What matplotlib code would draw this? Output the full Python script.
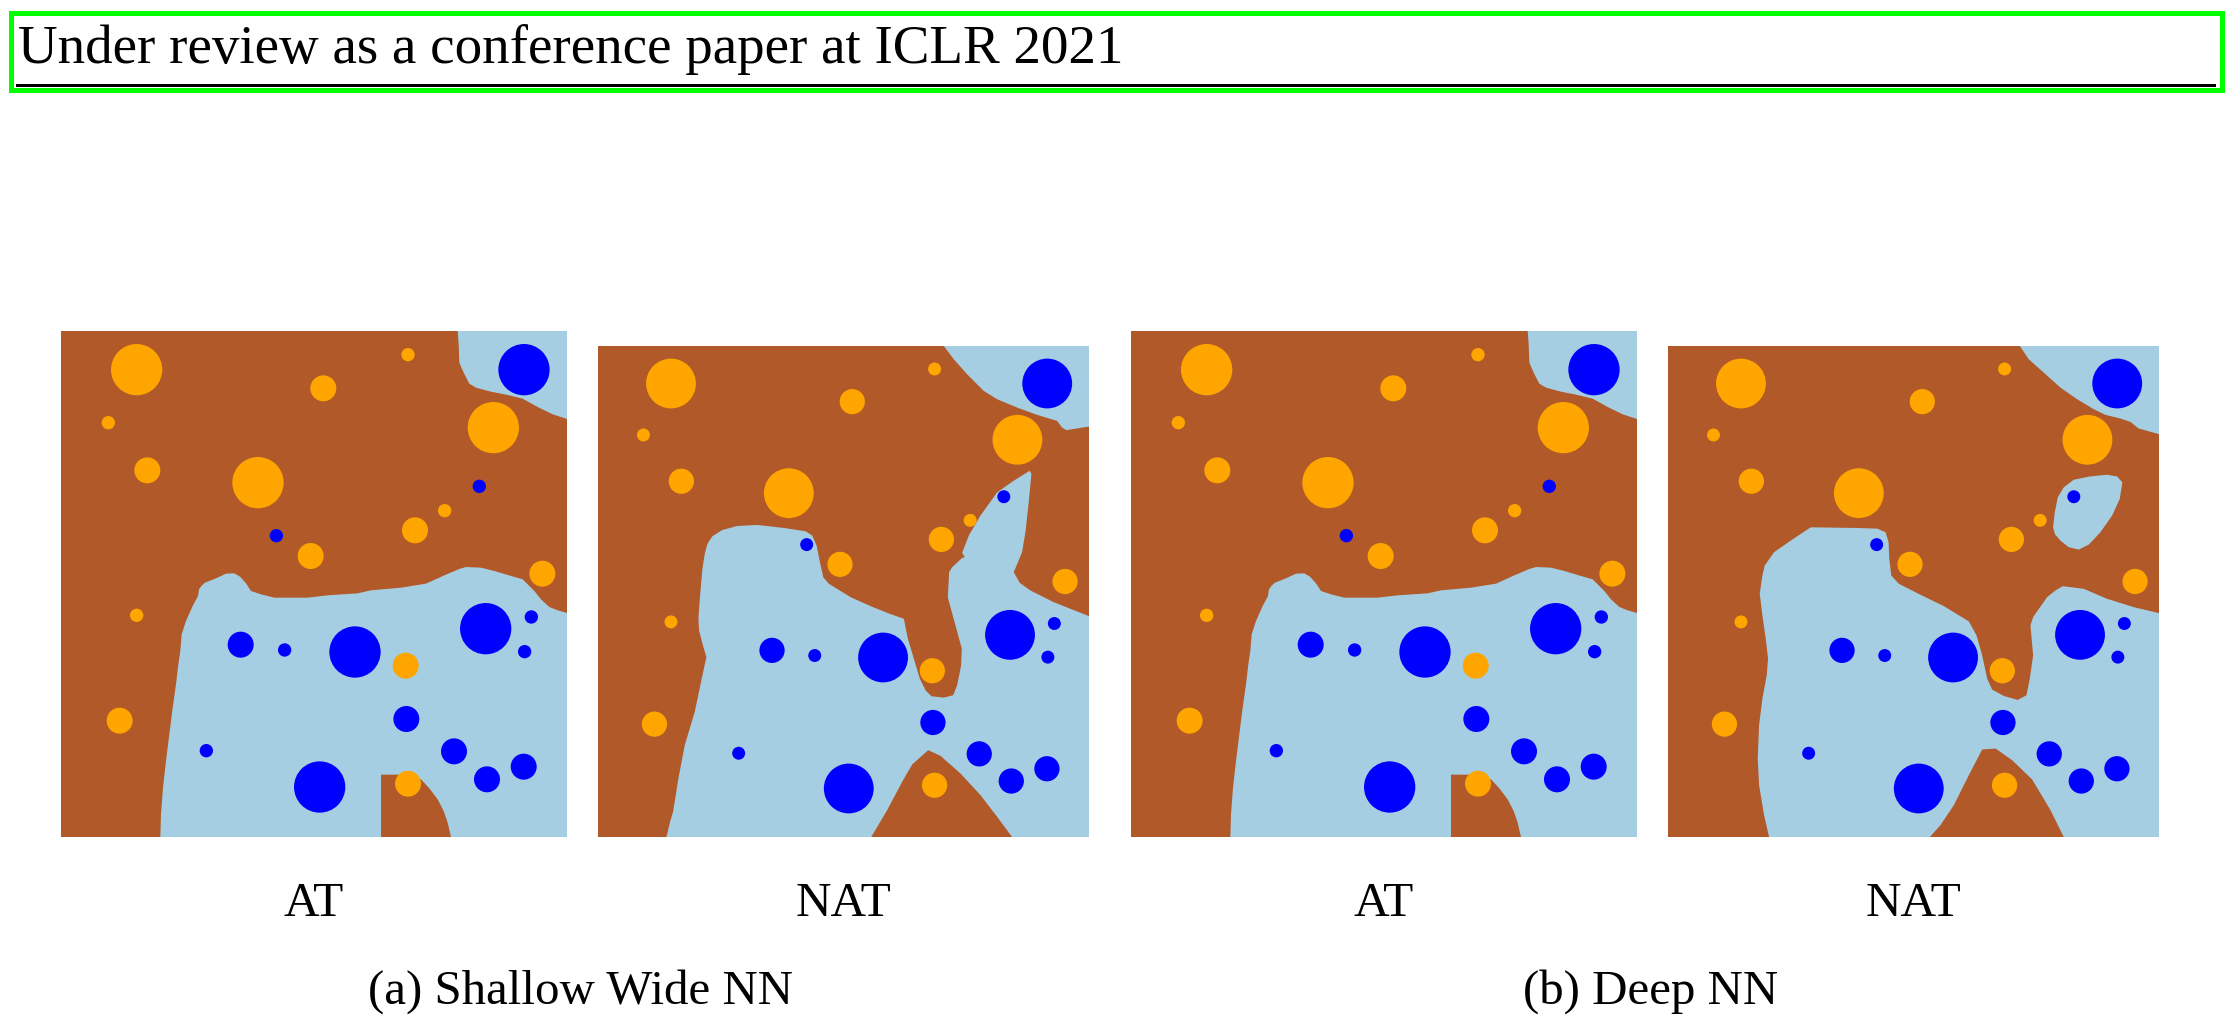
import matplotlib
matplotlib.use('Agg')
import matplotlib.pyplot as plt
from matplotlib.patches import Circle, Polygon, Rectangle
import numpy as np

W, H = 2232, 1024

# points, unit square, y up. size 0/1/2 = small/medium/large
orange_x = [.1495, .6858, .5184, .0935, .8544, .1706, .3893, .7582, .6996, .4934, .9513, .1495, .6812, .1159, .6858]
orange_y = [.9236, .9532, .8867, .8188, .8090, .7246, .7003, .6449, .6061, .5553, .5204, .4381, .3386, .2299, .1054]
orange_size = [2, 0, 1, 0, 2, 1, 2, 0, 1, 1, 1, 0, 1, 1, 1]

blue_x = [.9150, .8267, .4256, .8393, .9295, .9163, .3551, .4420, .5810, .6825, .2872, .7767, .9144, .8419, .5112]
blue_y = [.9236, .6930, .5955, .4117, .4348, .3663, .3801, .3696, .3656, .2332, .1706, .1693, .1390, .1140, .0988]
blue_size = [2, 0, 0, 2, 0, 0, 1, 0, 2, 1, 0, 1, 1, 1, 2]

# region outlines (crop pixels, y down)
at_corner = [(1190, 0), (1193, 40), (1195, 95), (1208, 125), (1225, 158), (1245, 170), (1290, 182), (1340, 192),
             (1385, 203), (1430, 228), (1475, 250), (1518, 264), (1518, 0)]
at_main = [(298, 1518), (300, 1450), (306, 1370), (315, 1290), (325, 1210), (335, 1130), (345, 1060), (352, 1000),
           (358, 960), (362, 910), (375, 870), (395, 825), (411, 795), (414, 775), (422, 764), (432, 755), (465, 742),
           (495, 728), (520, 727), (537, 737), (555, 757), (570, 780), (600, 790), (640, 800), (740, 800), (800, 793),
           (890, 787), (930, 778), (1020, 770), (1095, 758), (1150, 733), (1195, 714), (1215, 708), (1260, 710),
           (1300, 720), (1340, 732), (1385, 745), (1420, 780), (1440, 805), (1465, 828), (1490, 838), (1518, 846),
           (1518, 1518), (1170, 1518), (1160, 1475), (1148, 1440), (1130, 1405), (1105, 1372), (1080, 1345),
           (1050, 1331), (960, 1331), (960, 1518)]

nat_a_corner = [(1040, 0), (1070, 40), (1110, 85), (1160, 135), (1200, 160), (1260, 185), (1320, 207), (1380, 225),
                (1395, 245), (1408, 253), (1476, 242), (1476, 0)]
nat_a_main = [(207, 1476), (218, 1430), (227, 1400), (243, 1300), (262, 1200), (292, 1100), (313, 1000), (327, 935),
              (318, 905), (305, 855), (303, 820), (308, 750), (315, 670), (322, 625), (330, 595), (345, 572),
              (375, 553), (420, 541), (480, 538), (560, 547), (625, 557), (645, 570), (658, 600), (668, 650),
              (678, 695), (695, 715), (760, 755), (820, 782), (880, 806), (920, 820), (932, 880), (950, 940),
              (968, 1000), (985, 1035), (1003, 1053), (1040, 1057), (1068, 1050), (1080, 1020), (1092, 960),
              (1094, 910), (1075, 840), (1052, 755), (1056, 680), (1065, 665), (1095, 637), (1103, 635), (1095, 622),
              (1115, 570), (1150, 510), (1200, 440), (1250, 405), (1298, 375), (1303, 385), (1295, 470), (1285, 560),
              (1275, 620), (1250, 680), (1268, 712), (1300, 735), (1370, 770), (1420, 790), (1476, 812), (1476, 1476),
              (1245, 1476), (1200, 1415), (1150, 1350), (1090, 1285), (1030, 1232), (993, 1215), (945, 1258),
              (915, 1310), (870, 1395), (822, 1476)]

nat_b_corner = [(1058, 0), (1085, 40), (1130, 80), (1180, 125), (1230, 160), (1280, 190), (1315, 207), (1360, 218),
                (1390, 228), (1415, 248), (1476, 265), (1476, 0)]
nat_b_island = [(1158, 545), (1163, 500), (1172, 455), (1190, 425), (1220, 402), (1270, 392), (1320, 387), (1350, 392),
                (1366, 410), (1358, 460), (1335, 510), (1300, 560), (1265, 597), (1235, 612), (1205, 605), (1180, 585),
                (1163, 565)]
nat_b_main = [(305, 1476), (290, 1410), (275, 1320), (271, 1240), (275, 1140), (285, 1060), (298, 990), (302, 940),
              (295, 880), (285, 810), (277, 745), (285, 690), (292, 660), (320, 620), (370, 585), (430, 545),
              (565, 547), (630, 549), (655, 560), (664, 590), (666, 640), (672, 690), (695, 715), (760, 748),
              (830, 782), (905, 828), (928, 870), (945, 930), (960, 1000), (975, 1033), (1010, 1052), (1052, 1064),
              (1078, 1050), (1088, 1000), (1098, 930), (1090, 840), (1098, 815), (1140, 755), (1165, 735), (1187, 722),
              (1250, 730), (1320, 760), (1400, 785), (1476, 803), (1476, 1476), (1190, 1476), (1150, 1395),
              (1095, 1303), (1035, 1245), (985, 1210), (945, 1213), (905, 1290), (860, 1380), (820, 1440), (788, 1476)]

panel_labels = ['AT', 'NAT', 'AT', 'NAT']
captions = ['(a) Shallow Wide NN', '(b) Deep NN']
header = 'Under review as a conference paper at ICLR 2021'

BROWN = '#b15928'
LIGHT = '#a6cee3'
RADIUS = [.0132, .0257, .0507]

plt.rcParams['font.family'] = ['Liberation Serif', 'DejaVu Sans']


def px_axes(fig, left, top, right, bottom):
    return fig.add_axes([left / W, 1 - bottom / H, (right - left) / W, (bottom - top) / H])


def draw_panel(ax, regions, grid):
    ax.set_xlim(0, 1)
    ax.set_ylim(0, 1)
    ax.set_facecolor(BROWN)
    ax.set_xticks([])
    ax.set_yticks([])
    for s in ax.spines.values():
        s.set_visible(False)
    for region in regions:
        pts = np.array(region, dtype=float) / grid
        pts[:, 1] = 1 - pts[:, 1]
        ax.add_patch(Polygon(pts, closed=True, facecolor=LIGHT, edgecolor='none'))
    for x, y, s in zip(orange_x, orange_y, orange_size):
        ax.add_patch(Circle((x, y), RADIUS[s], facecolor='orange', edgecolor='none'))
    for x, y, s in zip(blue_x, blue_y, blue_size):
        ax.add_patch(Circle((x, y), RADIUS[s], facecolor='blue', edgecolor='none'))


fig = plt.figure(figsize=(W / 100, H / 100), dpi=100, facecolor='white')

boxes = [(61, 331, 567, 837), (597.5, 346, 1089, 837), (1131, 331, 1637, 837), (1667.5, 346, 2159, 837)]
panels = [([at_corner, at_main], 1518),
          ([nat_a_corner, nat_a_main], 1476),
          ([at_corner, at_main], 1518),
          ([nat_b_corner, nat_b_island, nat_b_main], 1476)]

for box, (regions, grid), label in zip(boxes, panels, panel_labels):
    ax = px_axes(fig, *box)
    draw_panel(ax, regions, grid)
    fig.text((box[0] + box[2]) / 2 / W, 1 - 916 / H, label, ha='center', va='baseline', fontsize=35.5, color='black')

fig.text(580 / W, 1 - 1004 / H, captions[0], ha='center', va='baseline', fontsize=35.2, color='black')
fig.text(1651 / W, 1 - 1004 / H, captions[1], ha='center', va='baseline', fontsize=35.2, color='black')

# running head with the green box round it
fig.text(18 / W, 1 - 63 / H, header, ha='left', va='baseline', fontsize=39.6, color='black')
fig.add_artist(Rectangle((16 / W, 1 - 87 / H), 2200 / W, 3 / H, transform=fig.transFigure,
                         facecolor='black', edgecolor='none'))
fig.add_artist(Rectangle((10.5 / W, 1 - 90 / H), 2211 / W, 77.5 / H, transform=fig.transFigure,
                         facecolor='none', edgecolor='#00ff00', linewidth=3.6))

fig.savefig('out.png', dpi=100)
